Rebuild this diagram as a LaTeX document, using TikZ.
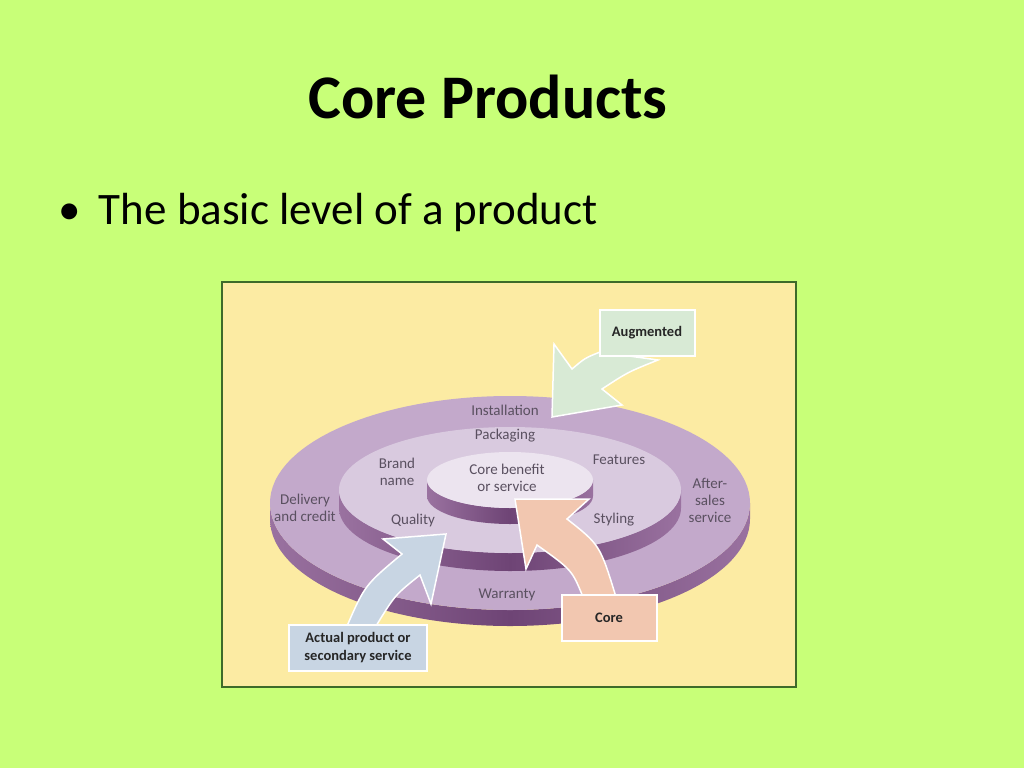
\documentclass[tikz,border=0pt]{standalone}
\usepackage{fontspec}
\setmainfont{Carlito}
\usepackage{tikz}
\usetikzlibrary{positioning,calc}
\definecolor{slidegreen}{HTML}{C8FF78}
\definecolor{paneyellow}{HTML}{FCEBA3}
\definecolor{paneframe}{HTML}{3E6B2A}
\definecolor{discouter}{HTML}{C3A9CB}
\definecolor{discmiddle}{HTML}{D9CADF}
\definecolor{discinner}{HTML}{ECE4EF}
\definecolor{discside}{HTML}{9A72A0}
\definecolor{discdark}{HTML}{6E4475}
\definecolor{augfill}{HTML}{D8EAD5}
\definecolor{corefill}{HTML}{F2C7B0}
\definecolor{actfill}{HTML}{C8D5E3}
\definecolor{labelgrey}{HTML}{5A5060}

\begin{document}
\begin{tikzpicture}[
    x=1pt, y=-1pt,
    lbl/.style={font=\fontsize{15}{17}\selectfont, text=labelgrey, align=center, inner sep=0pt},
    tag/.style={draw=white, line width=2pt, align=center, minimum height=46pt,
                font=\bfseries\fontsize{14.5}{18}\selectfont, text=black!85},
    block/.style={draw=white, line width=1.5pt}
]
    % Slide and panel
    \fill[slidegreen] (0,0) rectangle (1024,768);
    \useasboundingbox (0,0) rectangle (1024,768);
    \node (title) at (488,97) {\bfseries\fontsize{62}{70}\selectfont Core Products};
    \node[anchor=west] (bullet) at (55,213) {\fontsize{45}{52}\selectfont\textbullet\hspace{18pt}The basic level of a product};
    \fill[paneyellow] (222,282) rectangle (796,687);
    \draw[paneframe, line width=1.5pt] (222,282) rectangle (796,687);

    % Discs: side band, then top face
    \foreach \cy/\rx/\ry/\t/\face in {503/240/107/16/discouter, 490/171/63/18/discmiddle, 480/83/28/16/discinner}{
        \shade[left color=discside, right color=discside, middle color=discdark]
            (510-\rx,\cy) -- ++(0,\t) arc[start angle=180, end angle=0, x radius=\rx, y radius=\ry]
            -- ++(0,-\t) arc[start angle=0, end angle=180, x radius=\rx, y radius=\ry] -- cycle;
        \fill[\face] (510,\cy) ellipse[x radius=\rx, y radius=\ry];
    }

    % Disc labels
    \node[lbl] (install) at (505,410) {Installation};
    \node[lbl] (pack) at (505,436) {Packaging};
    \node[lbl] (brand) at (397,472) {Brand\\name};
    \node[lbl] (corebenefit) at (507,478) {Core benefit\\or service};
    \node[lbl] (features) at (619,460) {Features};
    \node[lbl] (aftersales) at (710,500) {After-\\sales\\service};
    \node[lbl] (delivery) at (305,508) {Delivery\\and credit};
    \node[lbl] (quality) at (413,520) {Quality};
    \node[lbl] (styling) at (614,520) {Styling};
    \node[lbl] (warranty) at (507,595) {Warranty};

    % Block arrows
    \filldraw[block, fill=augfill] (600,352) .. controls (585,358) .. (572,369) -- (554,344)
        -- (552,417) -- (622,405) -- (602,389) .. controls (628,372) .. (658,360) -- cycle;
    \filldraw[block, fill=corefill] (583,597) .. controls (572,570) .. (537,545) -- (526,569)
        -- (515,499) -- (589,499) -- (567,519) .. controls (600,545) .. (616,597) -- cycle;
    \filldraw[block, fill=actfill] (347,626) .. controls (365,585) .. (402,554) -- (383,539)
        -- (446,534) -- (431,604) -- (420,575) .. controls (395,595) .. (376,626) -- cycle;

    % Tags
    \node[tag, fill=augfill, minimum width=95pt] (augmented) at (647,333) {Augmented};
    \node[tag, fill=corefill, minimum width=95pt] (core) at (609,618) {Core};
    \node[tag, fill=actfill, minimum width=138pt] (actual) at (358,648) {Actual product or\\secondary service};
\end{tikzpicture}
\end{document}
